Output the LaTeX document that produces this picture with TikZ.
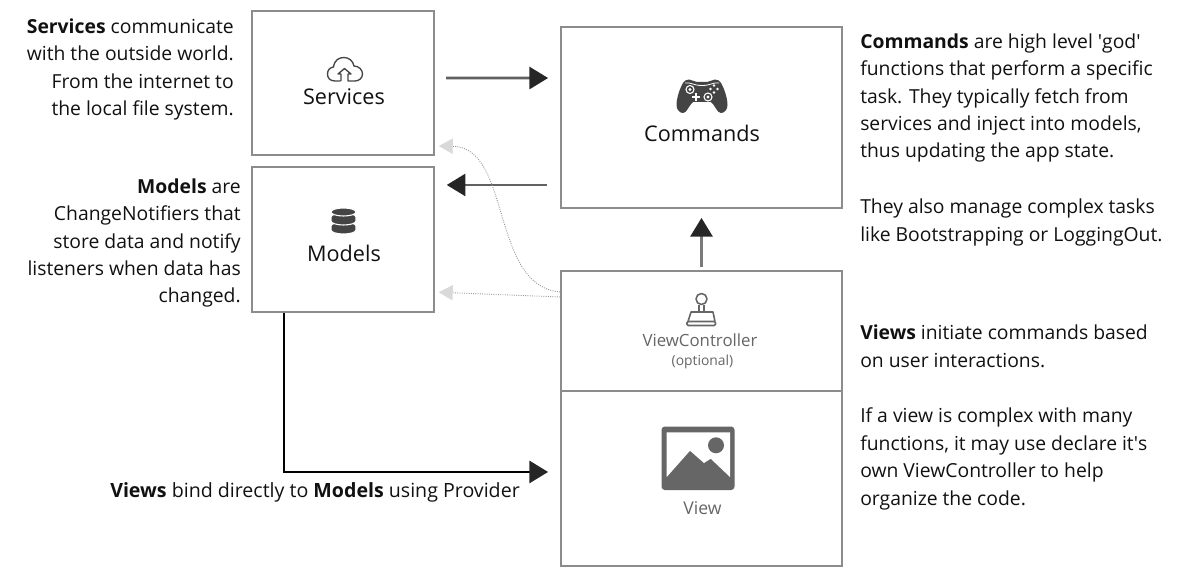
\documentclass[tikz,border=0pt]{standalone}
\usepackage{fontspec}
\setmainfont{Open Sans}
\usetikzlibrary{arrows.meta}
\definecolor{ink}{HTML}{111111}
\definecolor{iconink}{HTML}{444444}
\definecolor{softink}{HTML}{666666}
\tikzstyle{box}=[draw=black!45, line width=1.1pt, inner sep=0pt, fill=white]
\tikzstyle{title}=[text=ink, inner sep=0pt, font=\fontsize{16.2}{20}\selectfont]
\tikzstyle{subtitle}=[text=softink, inner sep=0pt, font=\fontsize{12.6}{16}\selectfont]
\tikzstyle{note}=[text=ink, inner sep=0pt, font=\fontsize{14.5}{20.6}\selectfont]
\tikzstyle{flow-arrow}=[-{Triangle[length=14pt,width=16.5pt,color=black!85]}, line width=2pt, draw=black!62]
\tikzstyle{bind-arrow}=[-{Triangle[length=14pt,width=16.5pt,color=black!85]}, line width=2.1pt, draw=black]
\tikzstyle{hint-arrow}=[-{Triangle[length=10.5pt,width=11.5pt,color=black!15]}, line width=0.7pt, densely dotted, draw=black!40]
\tikzstyle{icon-line}=[draw=iconink, line width=1pt, line join=round]
\tikzstyle{db-band}=[fill=iconink, draw=white, line width=0.8pt]
\begin{document}
\begin{tikzpicture}[x=0.75pt,y=-0.75pt]
\useasboundingbox (0,0) rectangle (1200,588);
\node[box, minimum width=136.5pt, minimum height=108pt] (services) at (343,83) {};
\node[box, minimum width=136.5pt, minimum height=109pt] (models) at (343,239.5) {};
\node[box, minimum width=211pt, minimum height=136pt] (commands) at (701.5,117.5) {};
\node[box, minimum width=211pt, minimum height=90pt] (vc) at (701.5,331) {};
\node[box, minimum width=211pt, minimum height=131pt] (view) at (701.5,478.5) {};
\node[title] (services-title) at (344,97) {Services};
\node[title] (models-title) at (344,253) {Models};
\node[title] (commands-title) at (702,133) {Commands};
\node[subtitle] (vc-title) at (700,340) {ViewController};
\node[subtitle, font=\fontsize{10.4}{13}\selectfont] (vc-optional) at (702.5,362) {(optional)};
\node[subtitle, font=\fontsize{13.2}{16}\selectfont] (view-title) at (702.5,508.5) {View};
\node[note, anchor=east, align=right] (services-note) at (234,69.5) {\textbf{Services} communicate\\with the outside world.\\From the internet to\\the local file system.};
\node[note, anchor=east, align=right] (models-note) at (241,243) {\textbf{Models} are\\ChangeNotifiers that\\store data and notify\\listeners when data has\\changed.};
\node[note, anchor=west, align=left] (commands-note) at (860,98) {\textbf{Commands} are high level \textquotesingle god\textquotesingle\\functions that perform a specific\\task. They typically fetch from\\services and inject into models,\\thus updating the app state.};
\node[note, anchor=west, align=left] (tasks-note) at (860,222.5) {They also manage complex tasks\\like Bootstrapping or LoggingOut.};
\node[note, anchor=west, align=left] (views-note) at (860,346.5) {\textbf{Views} initiate commands based\\on user interactions.};
\node[note, anchor=west, align=left] (complex-note) at (860,459) {If a view is complex with many\\functions, it may use declare it\textquotesingle s\\own ViewController to help\\organize the code.};
\node[note, anchor=east, font=\fontsize{14.7}{20.6}\selectfont] (bind-note) at (520,492) {\textbf{Views} bind directly to \textbf{Models} using Provider};
\draw[flow-arrow, shorten <=8.6pt, shorten >=9pt] ([yshift=3.75pt]services.east) to ([yshift=29.6pt]commands.west);
\draw[flow-arrow, shorten <=9.75pt, shorten >=9pt] ([yshift=-50.6pt]commands.west) to ([yshift=40.9pt]models.east);
\draw[flow-arrow, draw=black!52, shorten <=2.25pt, shorten >=6.75pt] (vc.north) to (commands.south);
\draw[bind-arrow, shorten >=9pt] ([xshift=-44.25pt]models.south) |- ([yshift=4.9pt]view.west);
\draw[hint-arrow, shorten >=3pt] ([yshift=29.25pt]vc.west) .. controls (490,286) and (512,147) .. ([yshift=-47.25pt]services.east);
\draw[hint-arrow, shorten >=3pt] ([yshift=25.5pt]vc.west) to ([yshift=-39.4pt]models.east);
\draw[icon-line] (340.5,81) -- (335,81) .. controls (330,81) and (327.5,78) .. (327.5,74) .. controls (327.5,70) and (330,67.5) .. (333.5,67) .. controls (334.5,60) and (339,57.5) .. (344,57.5) .. controls (349,57.5) and (353,61) .. (354,66) .. controls (359,66) and (362.5,70) .. (362.5,74) .. controls (362.5,78) and (359,81) .. (355,81) -- (348,81) -- (348,74) -- (351,74) -- (344.5,68.5) -- (338,74) -- (341,74) -- (341,81);
\draw[db-band] (331,226) -- (331,230) arc (180:0:12.5 and 4) -- (356,226) arc (0:-180:12.5 and 4) -- cycle;
\draw[db-band] (331,217) -- (331,221) arc (180:0:12.5 and 4) -- (356,217) arc (0:-180:12.5 and 4) -- cycle;
\draw[db-band] (331,208) -- (331,212) arc (180:0:12.5 and 4) -- (356,212) arc (0:-180:12.5 and 4) -- cycle;
\fill[iconink] (689,79.5) .. controls (692,79.5) and (694,82) .. (697,82) -- (707,82) .. controls (710,82) and (712,79.5) .. (715,79.5) .. controls (718,79.5) and (720,81) .. (721,83) .. controls (724,88) and (727.5,98) .. (727.5,105) .. controls (727.5,110) and (724,113) .. (721,113) .. controls (717,113) and (715,105) .. (711,102) -- (693,102) .. controls (689,105) and (687,113) .. (683,113) .. controls (680,113) and (676.5,110) .. (676.5,105) .. controls (676.5,98) and (680,88) .. (683,83) .. controls (684,81) and (686,79.5) .. (689,79.5) -- cycle;
\draw[white, line width=0.6pt] (685,83) .. controls (691,82) and (693,85.5) .. (702,85.5) .. controls (711,85.5) and (713,82) .. (719,83);
\draw[white, line width=0.8pt] (690,89.5) circle (4);
\draw[white, line width=0.8pt] (708,97) circle (4);
\fill[white] (690,89.5) circle (1.7);
\fill[white] (708,97) circle (1.7);
\fill[white] (692,96) rectangle (700,98.5);
\fill[white] (694.8,93) rectangle (697.2,101.5);
\fill[white] (714,85.5) circle (1.4);
\fill[white] (714,92.5) circle (1.4);
\fill[white] (710.5,89) circle (1.4);
\fill[white] (717.5,89) circle (1.4);
\draw[icon-line, draw=softink, line width=1.2pt] (701.5,299) circle (5.5);
\draw[icon-line, draw=softink, line width=1.2pt] (699,304.5) -- (699,312) (704,304.5) -- (704,312);
\draw[icon-line, draw=softink, line width=1.2pt] (688,321.5) -- (691,312) -- (713,312) -- (715,321.5);
\draw[icon-line, draw=softink, line width=1.2pt, rounded corners=1pt] (687,321.5) rectangle (715.5,325.5);
\fill[softink, rounded corners=2.5pt] (661.5,426.5) rectangle (734.5,490);
\fill[white] (666.7,432.3) -- (730,432.3) -- (730,477) -- (710.7,458.7) -- (704,463) -- (690,450.7) -- (666.7,477) -- cycle;
\fill[softink] (716,445.3) circle (8);
\end{tikzpicture}
\end{document}
